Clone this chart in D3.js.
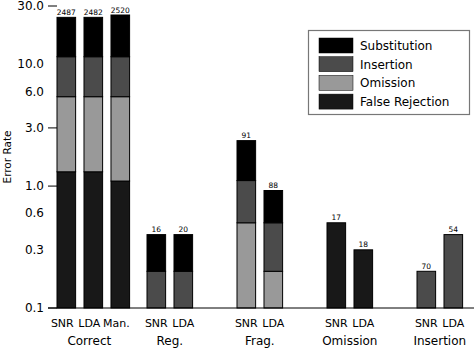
<!DOCTYPE html>
<html><head><meta charset="utf-8">
<script src="https://cdn.jsdelivr.net/npm/d3@7"></script>
<style>body{margin:0;background:#fff}svg{display:block}text{font-family:"DejaVu Sans",sans-serif;fill:#000}</style>
</head><body><svg id="c" width="474" height="348"></svg>
<script>
const groups = ["Correct","Reg.","Frag.","Omission","Insertion"];
const barGroup = ["Correct","Correct","Correct","Reg.","Reg.","Frag.","Frag.","Omission","Omission","Insertion","Insertion"];
const barMethod = ["SNR","LDA","Man.","SNR","LDA","SNR","LDA","SNR","LDA","SNR","LDA"];
const barCounts = ["2487","2482","2520","16","20","91","88","17","18","70","54"];
// segment values, stacked bottom to top
const falseRejection = [1.31,1.31,1.10,0,0,0,0,0.50,0.30,0,0];
const omission       = [4.10,4.10,4.31,0,0,0.50,0.20,0,0,0,0];
const insertion      = [6.10,6.10,6.10,0.20,0.20,0.61,0.30,0,0,0.20,0.40];
const substitution   = [12.7,12.7,13.8,0.20,0.20,1.25,0.42,0,0,0,0];
const seriesNames = ["False Rejection","Omission","Insertion","Substitution"];
const seriesColors = ["#181818","#999999","#4b4b4b","#000000"];
const legendOrder = ["Substitution","Insertion","Omission","False Rejection"];
const yTicks = [30,10,6,3,1,0.6,0.3,0.1];
const yTickMarks = [30,3,1,0.1];

const svg = d3.select("#c");
const y = d3.scaleLog().domain([0.1,30]).range([308,6]);
const xg = d3.scaleBand().domain(groups).range([57,507]);
const xi = d3.scaleBand().domain([0,1,2]).range([0,72.6]).paddingInner(0.31).paddingOuter(0);
const idxInGroup = barGroup.map((g,i)=>barGroup.slice(0,i).filter(v=>v===g).length);
const bx = i => xg(barGroup[i]) + xi(idxInGroup[i]);
const bw = xi.bandwidth();

const rows = barGroup.map((g,i)=>({i, "False Rejection":falseRejection[i], "Omission":omission[i], "Insertion":insertion[i], "Substitution":substitution[i]}));
const stacked = d3.stack().keys(seriesNames)(rows);
const color = d3.scaleOrdinal().domain(seriesNames).range(seriesColors);

stacked.forEach(s=>{
  svg.append("g").selectAll("rect").data(s.filter(d=>d[1]-d[0]>0)).join("rect")
    .attr("x", d=>bx(d.data.i)).attr("width", bw)
    .attr("y", d=>y(d[1]))
    .attr("height", d=>y(Math.max(d[0],0.1))-y(d[1]))
    .attr("fill", color(s.key)).attr("stroke","#000").attr("stroke-width",1);
});

// count labels
const tops = rows.map(r=>seriesNames.reduce((a,k)=>a+r[k],0));
svg.append("g").selectAll("text").data(barCounts).join("text")
  .attr("x",(d,i)=>bx(i)+bw/2).attr("y",(d,i)=>y(tops[i])-2.5)
  .attr("text-anchor","middle").attr("font-size","7.5px").text(d=>d);

// y axis ticks
const ya = svg.append("g");
ya.selectAll("text").data(yTicks).join("text")
  .attr("x",44).attr("y",d=>y(d)).attr("dy","0.36em")
  .attr("text-anchor","end").attr("font-size","12px").text(d=>d.toFixed(1));
ya.selectAll("line").data(yTickMarks).join("line")
  .attr("x1",48).attr("x2",57).attr("y1",d=>y(d)).attr("y2",d=>y(d))
  .attr("stroke","#000").attr("stroke-width",1);
svg.append("line").attr("x1",48).attr("x2",474).attr("y1",y(0.1)).attr("y2",y(0.1)).attr("stroke","#000");

svg.append("text").attr("transform","translate(11,157) rotate(-90)")
  .attr("text-anchor","middle").attr("font-size","10.5px").text("Error Rate");

// x labels
svg.append("g").selectAll("text").data(barMethod).join("text")
  .attr("x",(d,i)=>bx(i)+bw/2 - (barGroup[i]==="Correct"?4:0)).attr("y",327)
  .attr("text-anchor","middle").attr("font-size","11px").text(d=>d);
svg.append("g").selectAll("text").data(groups).join("text")
  .attr("x",g=>{const ids=barGroup.map((v,i)=>v===g?i:-1).filter(i=>i>=0);
     return (bx(ids[0])+bx(ids[ids.length-1])+bw)/2 - (g==="Correct"?4:0);})
  .attr("y",345).attr("text-anchor","middle").attr("font-size","12px").text(d=>d);

// legend
const lg = svg.append("g");
lg.append("rect").attr("x",308.5).attr("y",30.5).attr("width",161).attr("height",84)
  .attr("fill","#fff").attr("stroke","#777").attr("stroke-width",1.2);
legendOrder.forEach((k,j)=>{
  lg.append("rect").attr("x",319).attr("y",38+j*18.7).attr("width",34).attr("height",15)
    .attr("fill",color(k)).attr("stroke","#000").attr("stroke-width",0.5);
  lg.append("text").attr("x",360).attr("y",38+j*18.7+12).attr("font-size","12px").text(k);
});
</script></body></html>
